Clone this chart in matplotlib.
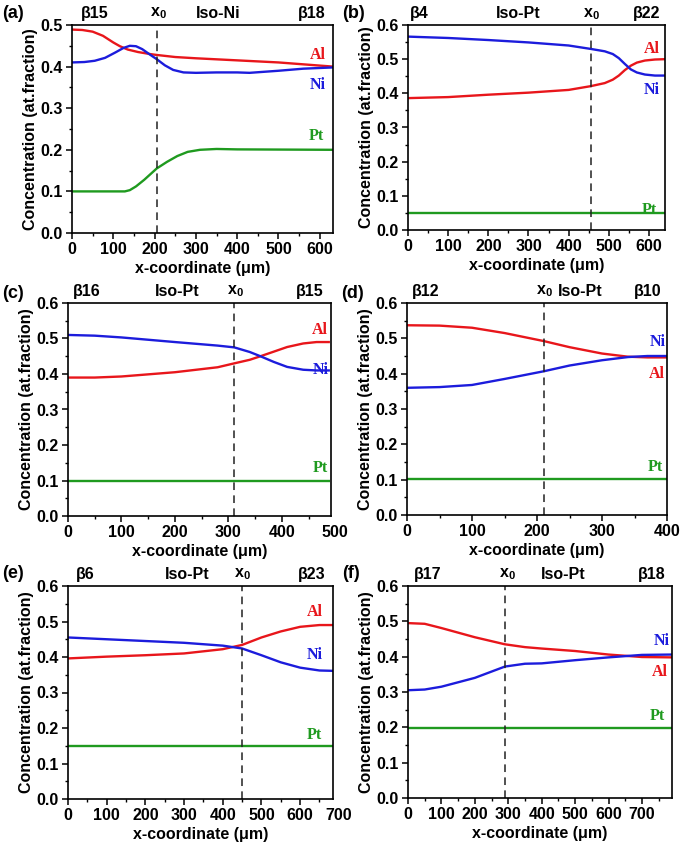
import matplotlib
matplotlib.use("Agg")
import matplotlib.pyplot as plt
from matplotlib.ticker import MultipleLocator, FormatStrFormatter
from matplotlib.transforms import blended_transform_factory

RED = '#e8161b'
BLUE = '#1c1cdc'
GREEN = '#1f9a1f'

# ---------------- data ----------------
# (a)
a_x_al = [0, 25, 50, 75, 100, 116, 135, 160, 190, 205, 250, 300, 400, 500, 632]
a_al = [0.489, 0.488, 0.484, 0.474, 0.458, 0.449, 0.441, 0.435, 0.430, 0.428, 0.423, 0.420, 0.415, 0.410, 0.400]
a_x_ni = [0, 30, 55, 80, 105, 125, 140, 155, 170, 190, 205, 225, 245, 270, 300, 350, 400, 430, 500, 560, 632]
a_ni = [0.410, 0.411, 0.414, 0.421, 0.434, 0.445, 0.450, 0.449, 0.442, 0.428, 0.418, 0.403, 0.392, 0.386, 0.385, 0.386, 0.386, 0.385, 0.390, 0.395, 0.398]
a_x_pt = [0, 128, 140, 155, 175, 205, 230, 255, 280, 310, 350, 400, 632]
a_pt = [0.100, 0.100, 0.103, 0.112, 0.128, 0.155, 0.171, 0.185, 0.195, 0.200, 0.202, 0.201, 0.200]

# (b)
b_x = [0, 100, 200, 300, 400, 455, 490, 510, 525, 540, 555, 570, 590, 615, 640]
b_ni = [0.566, 0.562, 0.556, 0.549, 0.540, 0.530, 0.523, 0.515, 0.503, 0.486, 0.470, 0.461, 0.455, 0.452, 0.452]
b_al = [0.386, 0.389, 0.396, 0.402, 0.410, 0.421, 0.430, 0.440, 0.452, 0.468, 0.481, 0.490, 0.496, 0.499, 0.500]
b_pt = [0.050] * len(b_x)

# (c)
c_x = [0, 50, 100, 200, 280, 311, 340, 360, 385, 410, 440, 465, 490]
c_ni = [0.510, 0.508, 0.503, 0.490, 0.480, 0.475, 0.462, 0.450, 0.434, 0.420, 0.412, 0.410, 0.410]
c_al = [0.390, 0.390, 0.393, 0.405, 0.419, 0.430, 0.440, 0.450, 0.463, 0.476, 0.486, 0.490, 0.490]
c_pt = [0.100] * len(c_x)

# (d)
d_x = [0, 50, 100, 150, 211, 250, 300, 340, 370, 400]
d_al = [0.537, 0.536, 0.530, 0.515, 0.492, 0.475, 0.457, 0.448, 0.446, 0.446]
d_ni = [0.360, 0.362, 0.368, 0.385, 0.407, 0.423, 0.438, 0.447, 0.450, 0.450]
d_pt = [0.103] * len(d_x)

# (e)
e_x = [0, 100, 200, 300, 400, 450, 500, 550, 600, 650, 685]
e_ni = [0.455, 0.450, 0.445, 0.440, 0.432, 0.424, 0.405, 0.385, 0.370, 0.362, 0.361]
e_al = [0.396, 0.401, 0.405, 0.410, 0.422, 0.434, 0.455, 0.472, 0.485, 0.490, 0.490]
e_pt = [0.148] * len(e_x)

# (f)
f_x = [0, 50, 100, 200, 290, 350, 400, 500, 600, 700, 790]
f_al = [0.495, 0.493, 0.481, 0.455, 0.435, 0.427, 0.423, 0.416, 0.406, 0.399, 0.398]
f_ni = [0.305, 0.307, 0.315, 0.340, 0.372, 0.380, 0.381, 0.390, 0.398, 0.405, 0.406]
f_pt = [0.198] * len(f_x)

panels = [
    dict(tag='(a)', tagxy=(2, 13), rect=(72, 25, 333, 233), xlim=(0, 632), ylim=(0, 0.5), x0=205,
         lines=[(a_x_al, a_al, RED), (a_x_ni, a_ni, BLUE), (a_x_pt, a_pt, GREEN)],
         lab=[('Al', 596, 0.428, RED), ('Ni', 596, 0.356, BLUE), ('Pt', 592, 0.232, GREEN)],
         top=[('β15', 0.088), ('x$_0$', 0.33), ('Iso-Ni', 0.56), ('β18', 0.92)], extra=None),
    dict(tag='(b)', tagxy=(342, 13), rect=(408, 25, 665, 230), xlim=(0, 640), ylim=(0, 0.6), x0=455,
         lines=[(b_x, b_al, RED), (b_x, b_ni, BLUE), (b_x, b_pt, GREEN)],
         lab=[('Al', 608, 0.53, RED), ('Ni', 608, 0.409, BLUE), ('Pt', 600, 0.060, GREEN)],
         top=[('β4', 0.045), ('Iso-Pt', 0.43), ('x$_0$', 0.715), ('β22', 0.93)], extra=None),
    dict(tag='(c)', tagxy=(2, 293), rect=(68, 303, 331, 516), xlim=(0, 492), ylim=(0, 0.6), x0=311,
         lines=[(c_x, c_al, RED), (c_x, c_ni, BLUE), (c_x, c_pt, GREEN)],
         lab=[('Al', 472, 0.525, RED), ('Ni', 472, 0.412, BLUE), ('Pt', 472, 0.135, GREEN)],
         top=[('β16', 0.072), ('Iso-Pt', 0.414), ('x$_0$', 0.635), ('β15', 0.92)], extra='500'),
    dict(tag='(d)', tagxy=(341, 293), rect=(407, 303, 667, 515), xlim=(0, 400), ylim=(0, 0.6), x0=211,
         lines=[(d_x, d_al, RED), (d_x, d_ni, BLUE), (d_x, d_pt, GREEN)],
         lab=[('Ni', 385, 0.49, BLUE), ('Al', 385, 0.40, RED), ('Pt', 382, 0.137, GREEN)],
         top=[('β12', 0.07), ('x$_0$', 0.53), ('Iso-Pt', 0.665), ('β10', 0.927)], extra=None),
    dict(tag='(e)', tagxy=(2, 574), rect=(68, 586, 333, 799), xlim=(0, 685), ylim=(0, 0.6), x0=450,
         lines=[(e_x, e_al, RED), (e_x, e_ni, BLUE), (e_x, e_pt, GREEN)],
         lab=[('Al', 638, 0.528, RED), ('Ni', 638, 0.406, BLUE), ('Pt', 638, 0.181, GREEN)],
         top=[('β6', 0.064), ('Iso-Pt', 0.45), ('x$_0$', 0.66), ('β23', 0.92)], extra='700'),
    dict(tag='(f)', tagxy=(342, 574), rect=(408, 586, 672, 798), xlim=(0, 790), ylim=(0, 0.6), x0=291,
         lines=[(f_x, f_al, RED), (f_x, f_ni, BLUE), (f_x, f_pt, GREEN)],
         lab=[('Ni', 760, 0.443, BLUE), ('Al', 755, 0.358, RED), ('Pt', 745, 0.233, GREEN)],
         top=[('β17', 0.075), ('x$_0$', 0.375), ('Iso-Pt', 0.587), ('β18', 0.924)], extra=None),
]

W, H = 685, 847
fig = plt.figure(figsize=(W / 100, H / 100), dpi=100)
plt.rcParams['mathtext.default'] = 'bf'
plt.rcParams['mathtext.fontset'] = 'custom'
plt.rcParams['mathtext.bf'] = 'Liberation Sans:bold'
SANS = 'Liberation Sans'
SERIF = 'Liberation Serif'
FS = 11.5
TLEN, TPAD = 4, 2.5

for p in panels:
    l, t, r, b = p['rect']
    ax = fig.add_axes([l / W, 1 - b / H, (r - l) / W, (b - t) / H])
    for xs, ys, c in p['lines']:
        ax.plot(xs, ys, color=c, lw=1.7, solid_capstyle='butt')
    ax.axvline(p['x0'], color='#222222', lw=1.1, ls=(0, (5, 3.5)))
    ax.set_xlim(*p['xlim'])
    ax.set_ylim(*p['ylim'])
    ax.xaxis.set_major_locator(MultipleLocator(100))
    ax.xaxis.set_minor_locator(MultipleLocator(50))
    ax.yaxis.set_major_locator(MultipleLocator(0.1))
    ax.yaxis.set_minor_locator(MultipleLocator(0.05))
    ax.yaxis.set_major_formatter(FormatStrFormatter('%.1f'))
    ax.tick_params(which='major', direction='out', length=TLEN, width=1.1, top=False, right=False, pad=TPAD)
    ax.tick_params(which='minor', direction='out', length=2.5, width=1.0, top=False, right=False)
    for lbl in ax.get_xticklabels() + ax.get_yticklabels():
        lbl.set_fontfamily(SANS)
        lbl.set_fontweight('bold')
        lbl.set_fontsize(FS)
    for s in ax.spines.values():
        s.set_linewidth(1.2)
    ax.set_xlabel('x-coordinate (μm)', fontfamily=SANS, fontweight='bold', fontsize=FS, labelpad=3)
    ax.set_ylabel('Concentration (at.fraction)', fontfamily=SANS, fontweight='bold', fontsize=FS, labelpad=2)
    if p['extra']:
        tr = blended_transform_factory(ax.transData, ax.transAxes)
        xv = float(p['extra'])
        ax.annotate(p['extra'], xy=(xv, 0), xycoords=tr, xytext=(0, -(TLEN + TPAD)),
                    textcoords='offset points', fontfamily=SANS, fontweight='bold',
                    fontsize=FS, ha='center', va='top', annotation_clip=False)
    for txt, x, y, c in p['lab']:
        ax.text(x, y, txt, color=c, fontfamily=SERIF, fontweight='bold', fontsize=11.5,
                ha='center', va='center')
    for txt, fx in p['top']:
        ax.text(fx, 1.055, txt, transform=ax.transAxes, fontfamily=SANS, fontweight='bold',
                fontsize=FS, ha='center', va='center')
    tx, ty = p['tagxy']
    fig.text(tx / W, 1 - ty / H, p['tag'], fontfamily=SANS, fontweight='bold',
             fontsize=13, ha='left', va='center')

fig.savefig('out.png', dpi=100)
